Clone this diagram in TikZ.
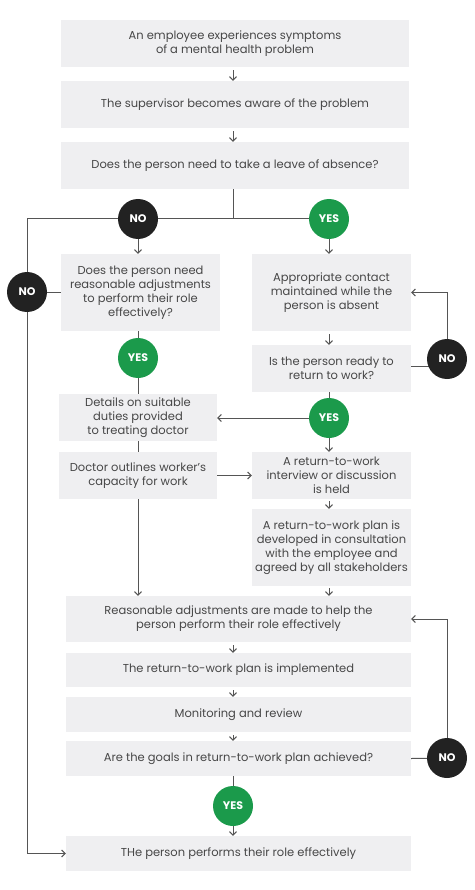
\documentclass[tikz,border=0pt]{standalone}
\usepackage{fontspec}
\setmainfont{Poppins}
\usetikzlibrary{arrows.meta,backgrounds}
\definecolor{boxgray}{HTML}{EFEFF1}
\definecolor{txt}{HTML}{474747}
\definecolor{linec}{HTML}{555555}
\definecolor{yesgreen}{HTML}{1B9A4B}
\definecolor{nodark}{HTML}{222222}
\begin{document}
\begin{tikzpicture}[x=1pt,y=-1pt,
  box/.style={fill=boxgray,text=txt,align=center,inner sep=0pt,font=\fontsize{11.5}{14}\selectfont},
  wide/.style={box,minimum width=345pt},
  narrow/.style={box,minimum width=159pt},
  circ/.style={circle,text=white,minimum size=40pt,inner sep=0pt,font=\bfseries\fontsize{11}{12}\selectfont},
  yesc/.style={circ,fill=yesgreen},
  noc/.style={circ,fill=nodark},
  ln/.style={draw=linec,line width=1pt},
  arr/.style={ln,-{Straight Barb[length=3.5pt,width=7pt]}}]
\useasboundingbox (0,0) rectangle (474,890);
\node[box,minimum width=348pt,minimum height=47pt] (b1) at (235,43.5) {An employee experiences symptoms\\of a mental health problem};
\node[box,minimum width=348pt,minimum height=47pt] (b2) at (235,104.5) {The supervisor becomes aware of the problem};
\node[box,minimum width=348pt,minimum height=47pt] (b3) at (235,165.5) {Does the person need to take a leave of absence?};
\node[narrow,minimum height=77pt] (b4) at (140.5,292.5) {Does the person need\\reasonable adjustments\\to perform their role\\effectively?};
\node[narrow,minimum height=77pt] (b5) at (331.5,292.5) {Appropriate contact\\maintained while the\\person is absent};
\node[narrow,minimum height=47pt] (b6) at (331.5,368.5) {Is the person ready to\\return to work?};
\node[box,minimum width=158pt,minimum height=47pt] (b7) at (138,417.5) {Details on suitable\\duties provided\\to treating doctor};
\node[box,minimum width=158pt,minimum height=47pt] (b8) at (138,475.5) {Doctor outlines worker's\\capacity for work};
\node[narrow,minimum height=47pt] (b9) at (331.5,475.5) {A return-to-work\\interview or discussion\\is held};
\node[narrow,minimum height=77pt] (b10) at (331.5,547.5) {A return-to-work plan is\\developed in consultation\\with the employee and\\agreed by all stakeholders};
\node[wide,minimum height=46pt] (b11) at (238.5,619) {Reasonable adjustments are made to help the\\person perform their role effectively};
\node[wide,minimum height=34pt] (b12) at (238.5,670) {The return-to-work plan is implemented};
\node[wide,minimum height=35pt] (b13) at (238.5,714.5) {Monitoring and review};
\node[wide,minimum height=35pt] (b14) at (238.5,758.5) {Are the goals in return-to-work plan achieved?};
\node[wide,minimum height=35pt] (b15) at (238.5,853.5) {THe person performs their role effectively};
\node[noc] (no1) at (138,219) {NO};
\node[yesc] (yes1) at (329,219) {YES};
\node[noc] (nol) at (27,292) {NO};
\node[yesc] (yes2) at (138,358) {YES};
\node[noc] (nor1) at (447,359) {NO};
\node[yesc] (yes3) at (329,418) {YES};
\node[noc] (nor2) at (447,758) {NO};
\node[yesc] (yes4) at (233,806) {YES};
\coordinate (cl) at (27,219);
\coordinate (p6) at (411,366);
\coordinate (c1) at (233,0);
\begin{scope}[on background layer]
\draw[arr,shorten <=3pt] (c1 |- b1.south) -- (c1 |- b2.north);
\draw[arr,shorten <=3pt] (c1 |- b2.south) -- (c1 |- b3.north);
\draw[ln] (c1 |- b3.south) -- (c1 |- no1);
\draw[ln] (no1) -- (yes1);
\draw[ln] (no1) -- (cl) -- (nol);
\draw[arr] (nol) -- (nol |- b15) -- (b15.west);
\draw[ln] (nol) -- (nol -| b4.west);
\draw[arr] (no1) -- (no1 |- b4.north);
\draw[arr] (yes1) -- (yes1 |- b5.north);
\draw[ln] (yes2 |- b4.south) -- (yes2);
\draw[ln] (yes2) -- (yes2 |- b7.north);
\draw[arr,shorten <=3pt] (yes1 |- b5.south) -- (yes1 |- b6.north);
\draw[ln] (p6) -- (p6 -| nor1);
\draw[arr] (nor1.north) -- (nor1.north |- b5.east) -- (b5.east);
\draw[ln] (yes3 |- b6.south) -- (yes3);
\draw[arr] (yes3) -- (yes3 |- b9.north);
\draw[arr] (yes3) -- (yes3 -| b7.east);
\draw[ln] (b7.south) -- (b8.north);
\draw[arr] (b8.east) -- (b8.east -| b9.west);
\draw[arr,shorten <=2pt] (yes3 |- b9.south) -- (yes3 |- b10.north);
\draw[arr] (b8.south) -- (b8.south |- b11.north);
\draw[arr,shorten <=2pt] (yes3 |- b10.south) -- (yes3 |- b11.north);
\draw[arr,shorten <=3pt] (c1 |- b11.south) -- (c1 |- b12.north);
\draw[arr,shorten <=3pt] (c1 |- b12.south) -- (c1 |- b13.north);
\draw[arr,shorten <=3pt] (c1 |- b13.south) -- (c1 |- b14.north);
\draw[ln] (b14.east) -- (nor2);
\draw[arr] (nor2.north) -- (nor2.north |- b11.east) -- (b11.east);
\draw[ln] (yes4 |- b14.south) -- (yes4);
\draw[arr] (yes4) -- (yes4 |- b15.north);
\end{scope}
\end{tikzpicture}
\end{document}
